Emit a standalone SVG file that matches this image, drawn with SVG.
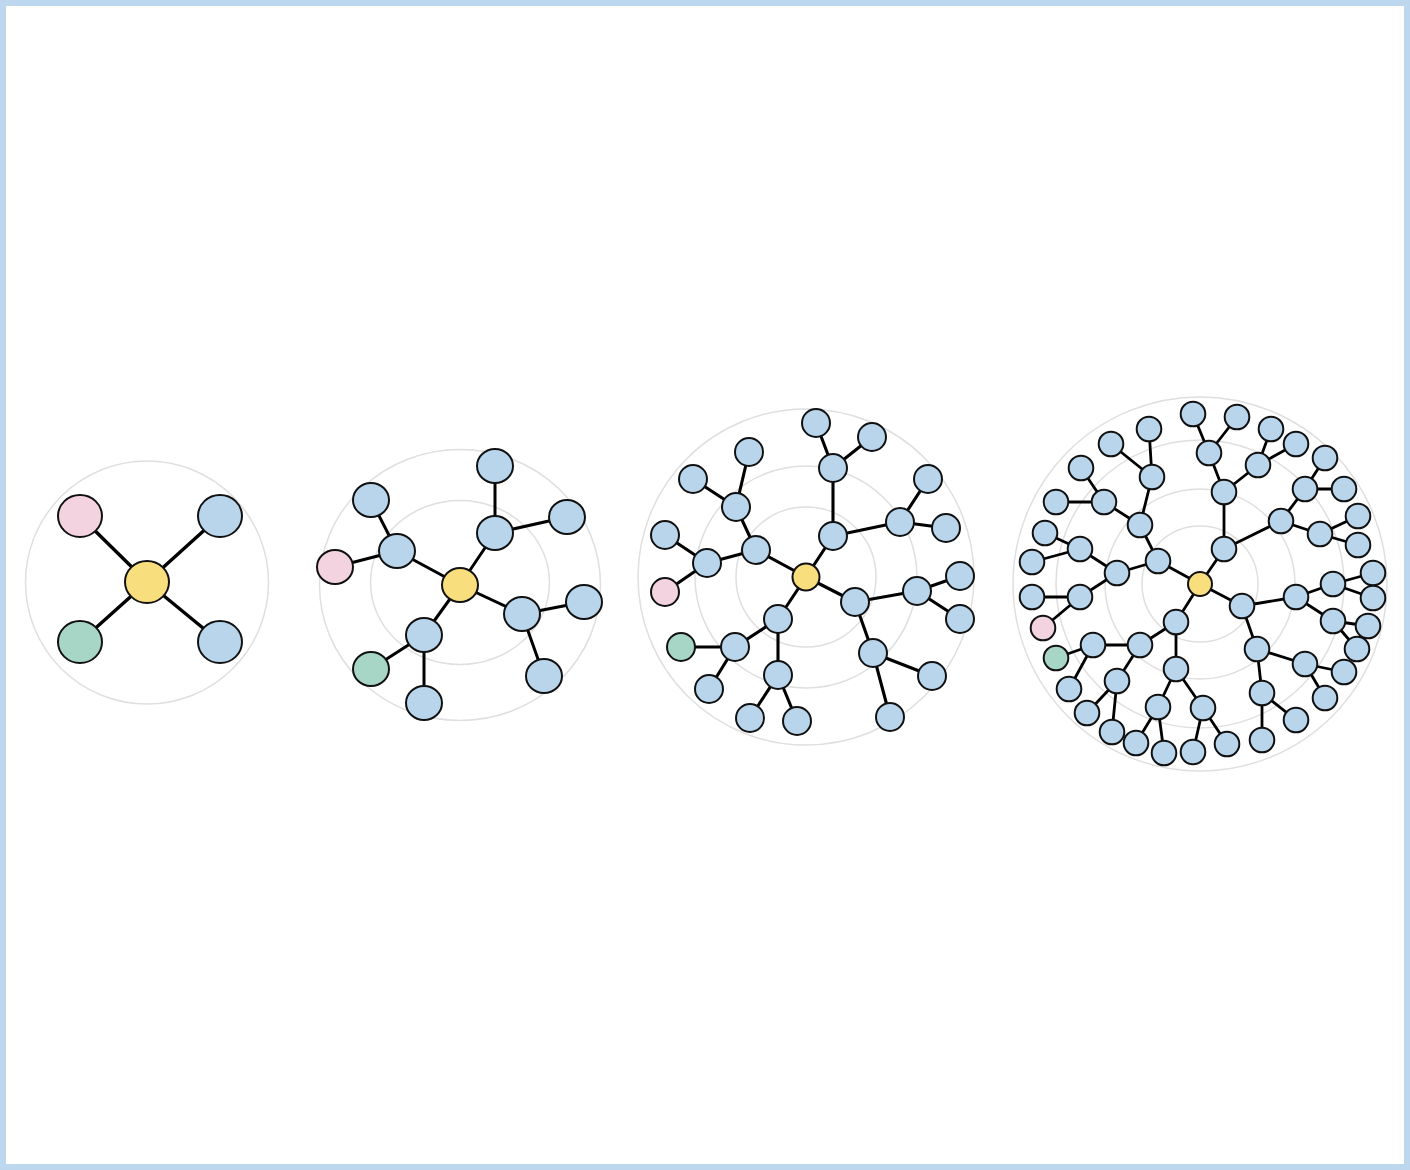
<svg xmlns="http://www.w3.org/2000/svg" width="1410" height="1170" viewBox="0 0 1410 1170">
<style>
.ring{fill:none;stroke:#dfdfdf;stroke-width:1.5}
.e{stroke:#000;stroke-linecap:round}
.e1{stroke-width:3.4}.e2{stroke-width:3}.e3{stroke-width:3.1}.e4{stroke-width:2.8}
.n{fill:#b9d5ec;stroke:#111;stroke-width:2}
.y{fill:#f9de7e}.p{fill:#f3d3df}.g{fill:#a7d5c6}
</style>
<rect x="3" y="3" width="1404" height="1164" fill="#fff" stroke="#bcd7ee" stroke-width="6"/>
<g id="rings">
<circle class="ring" cx="147" cy="582.5" r="121.5"/>
<ellipse class="ring" cx="460" cy="585" rx="140.5" ry="135.5"/>
<ellipse class="ring" cx="460" cy="582.5" rx="89.5" ry="82"/>
<circle class="ring" cx="806" cy="577" r="168"/>
<circle class="ring" cx="806" cy="577" r="111"/>
<circle class="ring" cx="806" cy="577" r="70"/>
<circle class="ring" cx="1200" cy="584" r="187"/>
<circle class="ring" cx="1200" cy="584" r="144"/>
<circle class="ring" cx="1200" cy="584" r="95"/>
<circle class="ring" cx="1200" cy="584" r="58"/>
</g>
<g id="connectors" class="e">
<g class="e1">
<line x1="147" y1="582" x2="80" y2="516"/><line x1="147" y1="582" x2="220" y2="516"/>
<line x1="147" y1="582" x2="80" y2="642"/><line x1="147" y1="582" x2="220" y2="642"/>
</g>
<g class="e2">
<line x1="460" y1="585" x2="495" y2="533"/><line x1="495" y1="533" x2="495" y2="466"/><line x1="495" y1="533" x2="567" y2="517"/>
<line x1="460" y1="585" x2="397" y2="551"/><line x1="397" y1="551" x2="371" y2="500"/><line x1="397" y1="551" x2="335" y2="567"/>
<line x1="460" y1="585" x2="522" y2="614"/><line x1="522" y1="614" x2="584" y2="602"/><line x1="522" y1="614" x2="544" y2="676"/>
<line x1="460" y1="585" x2="424" y2="635"/><line x1="424" y1="635" x2="371" y2="669"/><line x1="424" y1="635" x2="424" y2="703"/>
</g>
<g class="e3">
<line x1="806" y1="577" x2="833" y2="536"/><line x1="833" y1="536" x2="833" y2="468"/><line x1="833" y1="468" x2="816" y2="423"/><line x1="833" y1="468" x2="872" y2="437"/>
<line x1="833" y1="536" x2="900" y2="522"/><line x1="900" y1="522" x2="928" y2="479"/><line x1="900" y1="522" x2="946" y2="528"/>
<line x1="806" y1="577" x2="756" y2="550"/><line x1="756" y1="550" x2="736" y2="507"/><line x1="736" y1="507" x2="749" y2="452"/><line x1="736" y1="507" x2="693" y2="479"/>
<line x1="756" y1="550" x2="707" y2="563"/><line x1="707" y1="563" x2="665" y2="535"/><line x1="707" y1="563" x2="665" y2="592"/>
<line x1="806" y1="577" x2="778" y2="619"/><line x1="778" y1="619" x2="735" y2="647"/><line x1="735" y1="647" x2="681" y2="647"/><line x1="735" y1="647" x2="709" y2="689"/>
<line x1="778" y1="619" x2="778" y2="675"/><line x1="778" y1="675" x2="750" y2="718"/><line x1="778" y1="675" x2="797" y2="721"/>
<line x1="806" y1="577" x2="855" y2="602"/><line x1="855" y1="602" x2="917" y2="591"/><line x1="917" y1="591" x2="960" y2="576"/><line x1="917" y1="591" x2="960" y2="619"/>
<line x1="855" y1="602" x2="873" y2="653"/><line x1="873" y1="653" x2="932" y2="676"/><line x1="873" y1="653" x2="890" y2="717"/>
</g>
<g class="e4">
<line x1="1200" y1="584" x2="1224" y2="549"/><line x1="1224" y1="549" x2="1224" y2="492"/><line x1="1224" y1="492" x2="1209" y2="453"/>
<line x1="1209" y1="453" x2="1193" y2="414"/><line x1="1209" y1="453" x2="1237" y2="417"/><line x1="1224" y1="492" x2="1258" y2="465"/>
<line x1="1258" y1="465" x2="1271" y2="429"/><line x1="1258" y1="465" x2="1296" y2="444"/><line x1="1224" y1="549" x2="1281" y2="521"/>
<line x1="1281" y1="521" x2="1305" y2="489"/><line x1="1305" y1="489" x2="1325" y2="458"/><line x1="1305" y1="489" x2="1344" y2="489"/>
<line x1="1281" y1="521" x2="1320" y2="534"/><line x1="1320" y1="534" x2="1358" y2="516"/><line x1="1320" y1="534" x2="1358" y2="545"/>
<line x1="1200" y1="584" x2="1242" y2="606"/><line x1="1242" y1="606" x2="1296" y2="597"/><line x1="1296" y1="597" x2="1333" y2="584"/>
<line x1="1333" y1="584" x2="1373" y2="573"/><line x1="1333" y1="584" x2="1373" y2="598"/><line x1="1296" y1="597" x2="1333" y2="621"/>
<line x1="1333" y1="621" x2="1368" y2="626"/><line x1="1333" y1="621" x2="1357" y2="649"/><line x1="1242" y1="606" x2="1257" y2="649"/>
<line x1="1257" y1="649" x2="1305" y2="664"/><line x1="1305" y1="664" x2="1344" y2="672"/><line x1="1305" y1="664" x2="1325" y2="698"/>
<line x1="1257" y1="649" x2="1262" y2="693"/><line x1="1262" y1="693" x2="1296" y2="720"/><line x1="1262" y1="693" x2="1262" y2="740"/>
<line x1="1200" y1="584" x2="1176" y2="622"/><line x1="1176" y1="622" x2="1140" y2="645"/><line x1="1140" y1="645" x2="1093" y2="645"/>
<line x1="1093" y1="645" x2="1056" y2="658"/><line x1="1093" y1="645" x2="1069" y2="689"/><line x1="1140" y1="645" x2="1117" y2="681"/>
<line x1="1117" y1="681" x2="1087" y2="713"/><line x1="1117" y1="681" x2="1112" y2="732"/><line x1="1176" y1="622" x2="1176" y2="669"/>
<line x1="1176" y1="669" x2="1158" y2="707"/><line x1="1158" y1="707" x2="1136" y2="743"/><line x1="1158" y1="707" x2="1164" y2="753"/>
<line x1="1176" y1="669" x2="1203" y2="708"/><line x1="1203" y1="708" x2="1193" y2="752"/><line x1="1203" y1="708" x2="1227" y2="744"/>
<line x1="1200" y1="584" x2="1158" y2="561"/><line x1="1158" y1="561" x2="1140" y2="525"/><line x1="1140" y1="525" x2="1152" y2="477"/>
<line x1="1152" y1="477" x2="1149" y2="429"/><line x1="1152" y1="477" x2="1111" y2="444"/><line x1="1140" y1="525" x2="1104" y2="502"/>
<line x1="1104" y1="502" x2="1081" y2="468"/><line x1="1104" y1="502" x2="1056" y2="502"/><line x1="1158" y1="561" x2="1117" y2="573"/>
<line x1="1117" y1="573" x2="1080" y2="549"/><line x1="1080" y1="549" x2="1045" y2="533"/><line x1="1080" y1="549" x2="1032" y2="562"/>
<line x1="1117" y1="573" x2="1080" y2="597"/><line x1="1080" y1="597" x2="1032" y2="597"/><line x1="1080" y1="597" x2="1043" y2="628"/>
</g>
</g>
<g id="graph1">
<g id="g1-root"><ellipse class="n y" cx="147" cy="582" rx="22" ry="21"/></g>
<g id="g1-a"><ellipse class="n p" cx="80" cy="516" rx="22" ry="21"/></g>
<g id="g1-b"><ellipse class="n" cx="220" cy="516" rx="22" ry="21"/></g>
<g id="g1-c"><ellipse class="n g" cx="80" cy="642" rx="22" ry="21"/></g>
<g id="g1-d"><ellipse class="n" cx="220" cy="642" rx="22" ry="21"/></g>
</g>
<g id="graph2">
<g id="g2-root"><ellipse class="n y" cx="460" cy="585" rx="18" ry="17"/></g>
<g id="g2-a"><ellipse class="n" cx="495" cy="533" rx="18" ry="17"/></g>
<g id="g2-a1"><ellipse class="n" cx="495" cy="466" rx="18" ry="17"/></g>
<g id="g2-a2"><ellipse class="n" cx="567" cy="517" rx="18" ry="17"/></g>
<g id="g2-b"><ellipse class="n" cx="397" cy="551" rx="18" ry="17"/></g>
<g id="g2-b1"><ellipse class="n" cx="371" cy="500" rx="18" ry="17"/></g>
<g id="g2-b2"><ellipse class="n p" cx="335" cy="567" rx="18" ry="17"/></g>
<g id="g2-c"><ellipse class="n" cx="522" cy="614" rx="18" ry="17"/></g>
<g id="g2-c1"><ellipse class="n" cx="584" cy="602" rx="18" ry="17"/></g>
<g id="g2-c2"><ellipse class="n" cx="544" cy="676" rx="18" ry="17"/></g>
<g id="g2-d"><ellipse class="n" cx="424" cy="635" rx="18" ry="17"/></g>
<g id="g2-d1"><ellipse class="n g" cx="371" cy="669" rx="18" ry="17"/></g>
<g id="g2-d2"><ellipse class="n" cx="424" cy="703" rx="18" ry="17"/></g>
</g>
<g id="graph3">
<g id="g3-root"><circle class="n y" cx="806" cy="577" r="13.5"/></g>
<g id="g3-a"><circle class="n" cx="833" cy="536" r="14"/></g>
<g id="g3-a1"><circle class="n" cx="833" cy="468" r="14"/></g>
<g id="g3-a11"><circle class="n" cx="816" cy="423" r="14"/></g>
<g id="g3-a12"><circle class="n" cx="872" cy="437" r="14"/></g>
<g id="g3-a2"><circle class="n" cx="900" cy="522" r="14"/></g>
<g id="g3-a21"><circle class="n" cx="928" cy="479" r="14"/></g>
<g id="g3-a22"><circle class="n" cx="946" cy="528" r="14"/></g>
<g id="g3-b"><circle class="n" cx="756" cy="550" r="14"/></g>
<g id="g3-b1"><circle class="n" cx="736" cy="507" r="14"/></g>
<g id="g3-b11"><circle class="n" cx="749" cy="452" r="14"/></g>
<g id="g3-b12"><circle class="n" cx="693" cy="479" r="14"/></g>
<g id="g3-b2"><circle class="n" cx="707" cy="563" r="14"/></g>
<g id="g3-b21"><circle class="n" cx="665" cy="535" r="14"/></g>
<g id="g3-b22"><circle class="n p" cx="665" cy="592" r="14"/></g>
<g id="g3-c"><circle class="n" cx="778" cy="619" r="14"/></g>
<g id="g3-c1"><circle class="n" cx="735" cy="647" r="14"/></g>
<g id="g3-c11"><circle class="n g" cx="681" cy="647" r="14"/></g>
<g id="g3-c12"><circle class="n" cx="709" cy="689" r="14"/></g>
<g id="g3-c2"><circle class="n" cx="778" cy="675" r="14"/></g>
<g id="g3-c21"><circle class="n" cx="750" cy="718" r="14"/></g>
<g id="g3-c22"><circle class="n" cx="797" cy="721" r="14"/></g>
<g id="g3-d"><circle class="n" cx="855" cy="602" r="14"/></g>
<g id="g3-d1"><circle class="n" cx="917" cy="591" r="14"/></g>
<g id="g3-d11"><circle class="n" cx="960" cy="576" r="14"/></g>
<g id="g3-d12"><circle class="n" cx="960" cy="619" r="14"/></g>
<g id="g3-d2"><circle class="n" cx="873" cy="653" r="14"/></g>
<g id="g3-d21"><circle class="n" cx="932" cy="676" r="14"/></g>
<g id="g3-d22"><circle class="n" cx="890" cy="717" r="14"/></g>
</g>
<g id="graph4">
<g id="g4-root"><circle class="n y" cx="1200" cy="584" r="12"/></g>
<g id="g4-a"><circle class="n" cx="1224" cy="549" r="12.3"/></g>
<g id="g4-a1"><circle class="n" cx="1224" cy="492" r="12.3"/></g>
<g id="g4-a11"><circle class="n" cx="1209" cy="453" r="12.3"/></g>
<g id="g4-a111"><circle class="n" cx="1193" cy="414" r="12.3"/></g>
<g id="g4-a112"><circle class="n" cx="1237" cy="417" r="12.3"/></g>
<g id="g4-a12"><circle class="n" cx="1258" cy="465" r="12.3"/></g>
<g id="g4-a121"><circle class="n" cx="1271" cy="429" r="12.3"/></g>
<g id="g4-a122"><circle class="n" cx="1296" cy="444" r="12.3"/></g>
<g id="g4-a2"><circle class="n" cx="1281" cy="521" r="12.3"/></g>
<g id="g4-a21"><circle class="n" cx="1305" cy="489" r="12.3"/></g>
<g id="g4-a211"><circle class="n" cx="1325" cy="458" r="12.3"/></g>
<g id="g4-a212"><circle class="n" cx="1344" cy="489" r="12.3"/></g>
<g id="g4-a22"><circle class="n" cx="1320" cy="534" r="12.3"/></g>
<g id="g4-a221"><circle class="n" cx="1358" cy="516" r="12.3"/></g>
<g id="g4-a222"><circle class="n" cx="1358" cy="545" r="12.3"/></g>
<g id="g4-b"><circle class="n" cx="1242" cy="606" r="12.3"/></g>
<g id="g4-b1"><circle class="n" cx="1296" cy="597" r="12.3"/></g>
<g id="g4-b11"><circle class="n" cx="1333" cy="584" r="12.3"/></g>
<g id="g4-b111"><circle class="n" cx="1373" cy="573" r="12.3"/></g>
<g id="g4-b112"><circle class="n" cx="1373" cy="598" r="12.3"/></g>
<g id="g4-b12"><circle class="n" cx="1333" cy="621" r="12.3"/></g>
<g id="g4-b121"><circle class="n" cx="1368" cy="626" r="12.3"/></g>
<g id="g4-b122"><circle class="n" cx="1357" cy="649" r="12.3"/></g>
<g id="g4-b2"><circle class="n" cx="1257" cy="649" r="12.3"/></g>
<g id="g4-b21"><circle class="n" cx="1305" cy="664" r="12.3"/></g>
<g id="g4-b211"><circle class="n" cx="1344" cy="672" r="12.3"/></g>
<g id="g4-b212"><circle class="n" cx="1325" cy="698" r="12.3"/></g>
<g id="g4-b22"><circle class="n" cx="1262" cy="693" r="12.3"/></g>
<g id="g4-b221"><circle class="n" cx="1296" cy="720" r="12.3"/></g>
<g id="g4-b222"><circle class="n" cx="1262" cy="740" r="12.3"/></g>
<g id="g4-c"><circle class="n" cx="1176" cy="622" r="12.3"/></g>
<g id="g4-c1"><circle class="n" cx="1140" cy="645" r="12.3"/></g>
<g id="g4-c11"><circle class="n" cx="1093" cy="645" r="12.3"/></g>
<g id="g4-c111"><circle class="n g" cx="1056" cy="658" r="12.3"/></g>
<g id="g4-c112"><circle class="n" cx="1069" cy="689" r="12.3"/></g>
<g id="g4-c12"><circle class="n" cx="1117" cy="681" r="12.3"/></g>
<g id="g4-c121"><circle class="n" cx="1087" cy="713" r="12.3"/></g>
<g id="g4-c122"><circle class="n" cx="1112" cy="732" r="12.3"/></g>
<g id="g4-c2"><circle class="n" cx="1176" cy="669" r="12.3"/></g>
<g id="g4-c21"><circle class="n" cx="1158" cy="707" r="12.3"/></g>
<g id="g4-c211"><circle class="n" cx="1136" cy="743" r="12.3"/></g>
<g id="g4-c212"><circle class="n" cx="1164" cy="753" r="12.3"/></g>
<g id="g4-c22"><circle class="n" cx="1203" cy="708" r="12.3"/></g>
<g id="g4-c221"><circle class="n" cx="1193" cy="752" r="12.3"/></g>
<g id="g4-c222"><circle class="n" cx="1227" cy="744" r="12.3"/></g>
<g id="g4-d"><circle class="n" cx="1158" cy="561" r="12.3"/></g>
<g id="g4-d1"><circle class="n" cx="1140" cy="525" r="12.3"/></g>
<g id="g4-d11"><circle class="n" cx="1152" cy="477" r="12.3"/></g>
<g id="g4-d111"><circle class="n" cx="1149" cy="429" r="12.3"/></g>
<g id="g4-d112"><circle class="n" cx="1111" cy="444" r="12.3"/></g>
<g id="g4-d12"><circle class="n" cx="1104" cy="502" r="12.3"/></g>
<g id="g4-d121"><circle class="n" cx="1081" cy="468" r="12.3"/></g>
<g id="g4-d122"><circle class="n" cx="1056" cy="502" r="12.3"/></g>
<g id="g4-d2"><circle class="n" cx="1117" cy="573" r="12.3"/></g>
<g id="g4-d21"><circle class="n" cx="1080" cy="549" r="12.3"/></g>
<g id="g4-d211"><circle class="n" cx="1045" cy="533" r="12.3"/></g>
<g id="g4-d212"><circle class="n" cx="1032" cy="562" r="12.3"/></g>
<g id="g4-d22"><circle class="n" cx="1080" cy="597" r="12.3"/></g>
<g id="g4-d221"><circle class="n" cx="1032" cy="597" r="12.3"/></g>
<g id="g4-d222"><circle class="n p" cx="1043" cy="628" r="12.3"/></g>
</g>
</svg>
